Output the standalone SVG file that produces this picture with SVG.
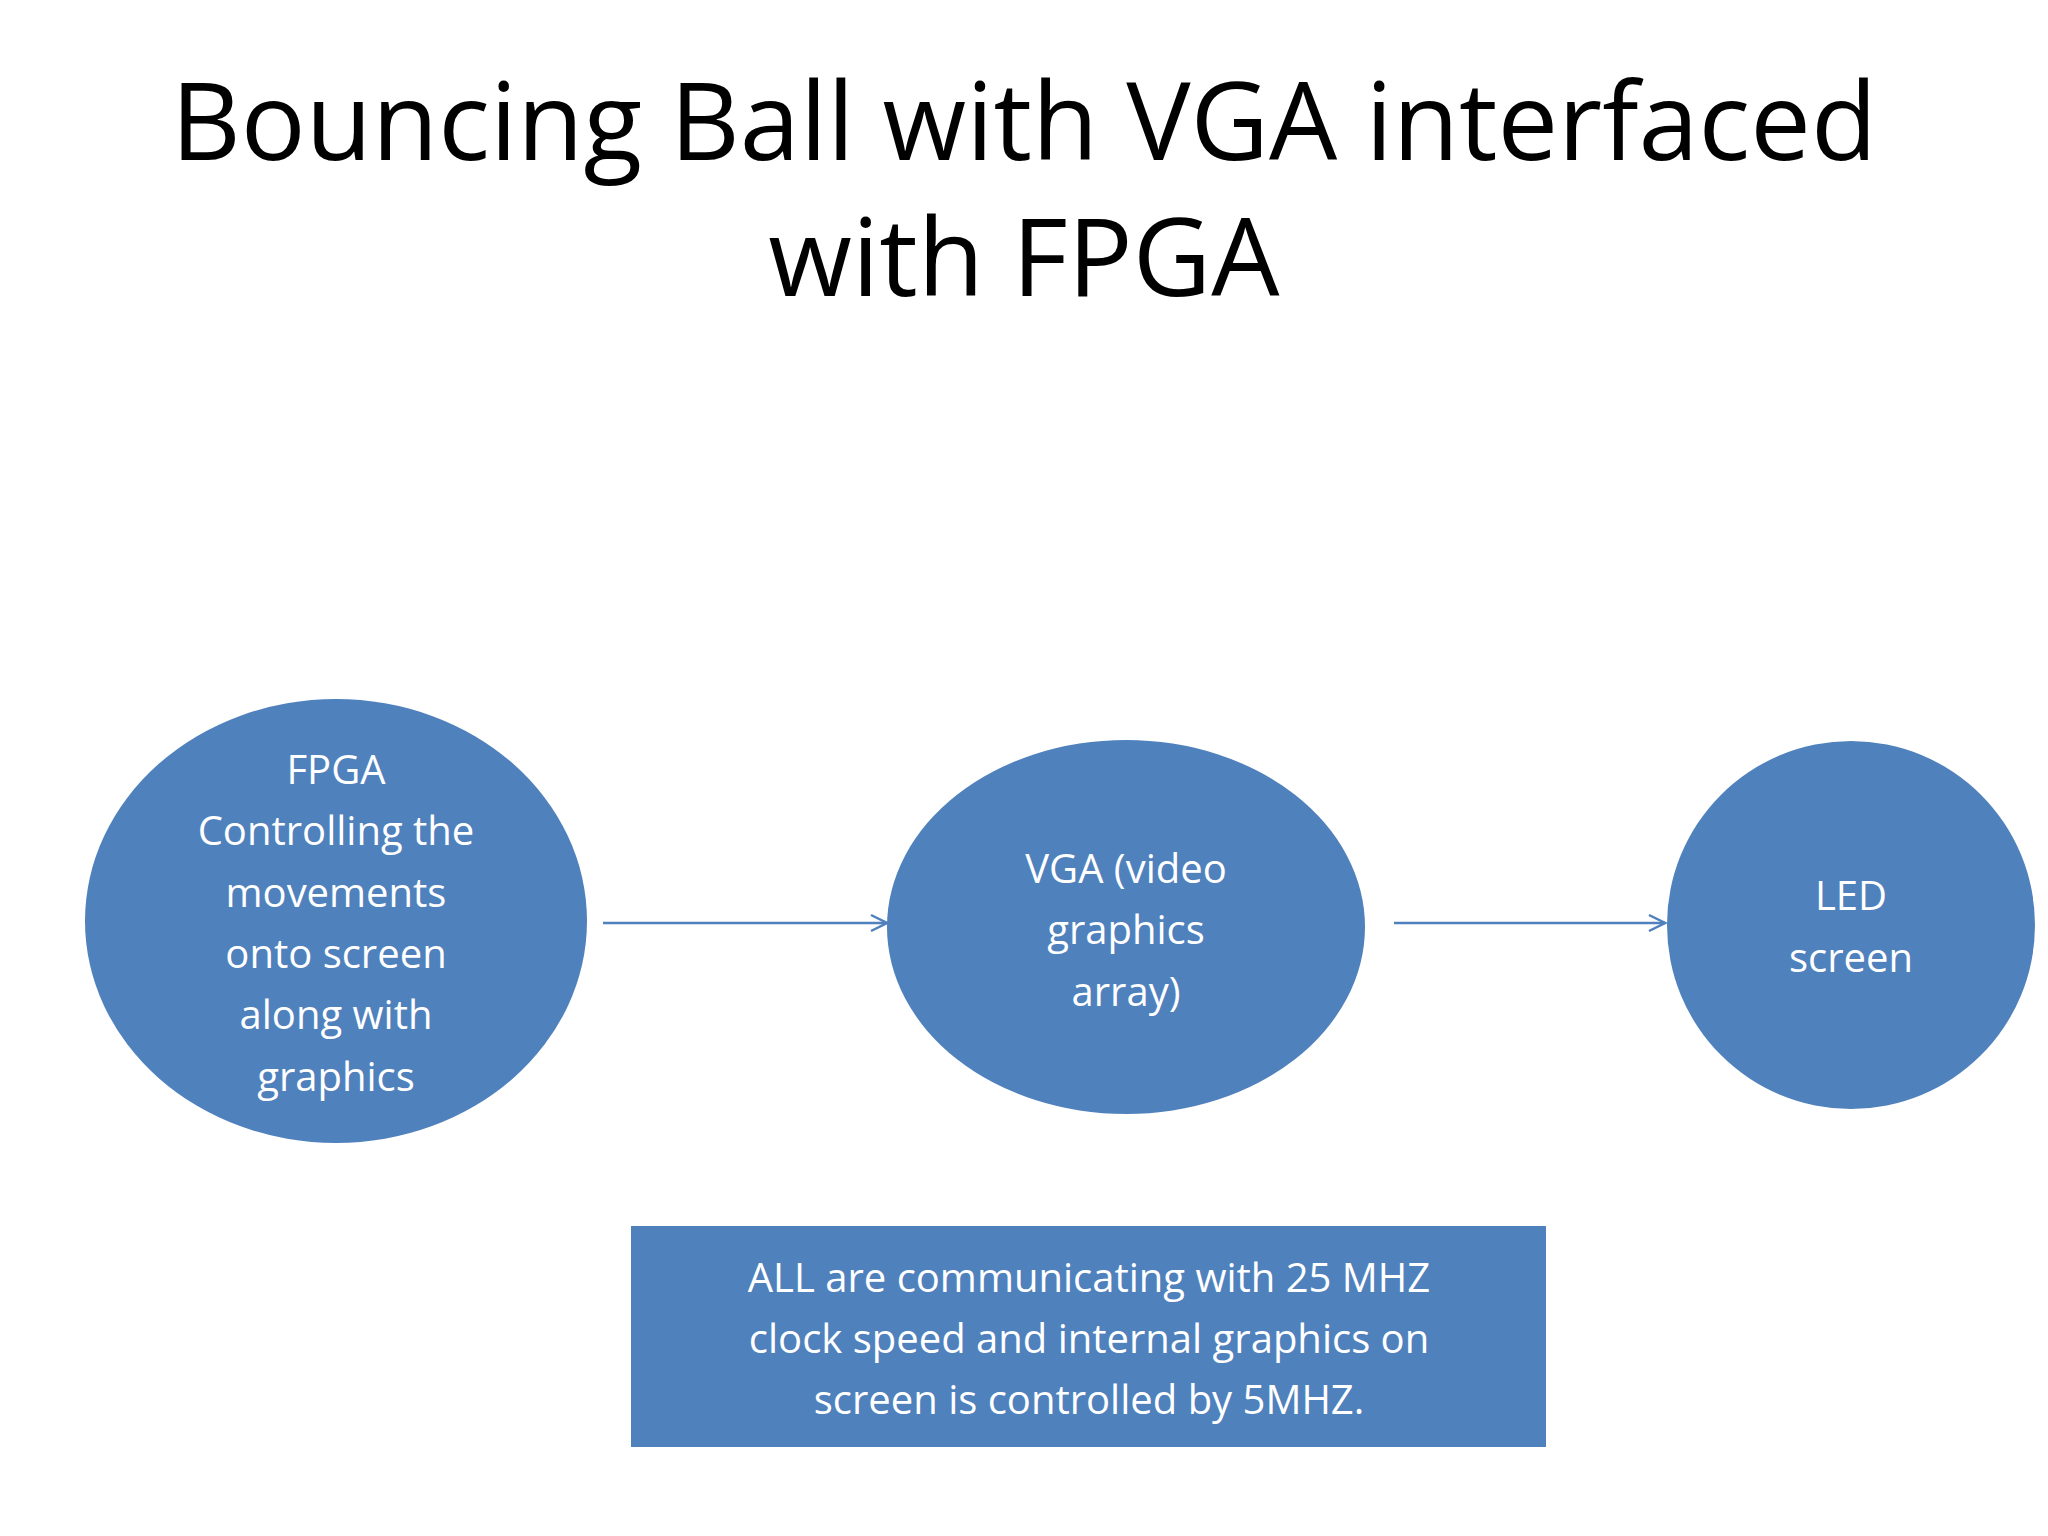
<svg xmlns="http://www.w3.org/2000/svg" width="2048" height="1536" viewBox="0 0 2048 1536">
<defs>
<style>
.t{font-family:"Open Sans","Noto Sans",sans-serif;fill:#fff;font-size:40px;text-anchor:middle}
.h{font-family:"Open Sans","Noto Sans",sans-serif;fill:#000;font-size:108px;text-anchor:middle}
.n{fill:#4F81BD}
.c{stroke:#4F81BD;stroke-width:2.5;fill:none;marker-end:url(#a)}
</style>
<marker id="a" markerWidth="20" markerHeight="20" refX="18" refY="10" orient="auto" markerUnits="userSpaceOnUse"><path d="M2,2 L18,10 L2,18" fill="none" stroke="#4F81BD" stroke-width="2.5"/></marker>
</defs>
<rect width="2048" height="1536" fill="#fff"/>
<text class="h" x="1024" y="160">Bouncing Ball with VGA interfaced</text>
<text class="h" x="1024" y="296">with FPGA</text>
<g id="fpga"><ellipse class="n" cx="336" cy="921" rx="251" ry="222"/>
<text class="t" x="336" y="784">FPGA</text><text class="t" x="336" y="845">Controlling the</text><text class="t" x="336" y="907">movements</text><text class="t" x="336" y="968">onto screen</text><text class="t" x="336" y="1029">along with</text><text class="t" x="336" y="1091">graphics</text></g>
<g id="vga"><ellipse class="n" cx="1126" cy="927" rx="239" ry="187"/>
<text class="t" x="1126" y="883">VGA (video</text><text class="t" x="1126" y="944">graphics</text><text class="t" x="1126" y="1006">array)</text></g>
<g id="led"><ellipse class="n" cx="1851" cy="925" rx="184" ry="184"/>
<text class="t" x="1851" y="910">LED</text><text class="t" x="1851" y="972">screen</text></g>
<g id="note"><rect class="n" x="631" y="1226" width="915" height="221"/>
<text class="t" x="1089" y="1292">ALL are communicating with 25 MHZ</text><text class="t" x="1089" y="1353">clock speed and internal graphics on</text><text class="t" x="1089" y="1414">screen is controlled by 5MHZ.</text></g>
<g id="connectors"><path class="c" d="M603,923 H887"/><path class="c" d="M1394,923 H1665"/></g>
</svg>
